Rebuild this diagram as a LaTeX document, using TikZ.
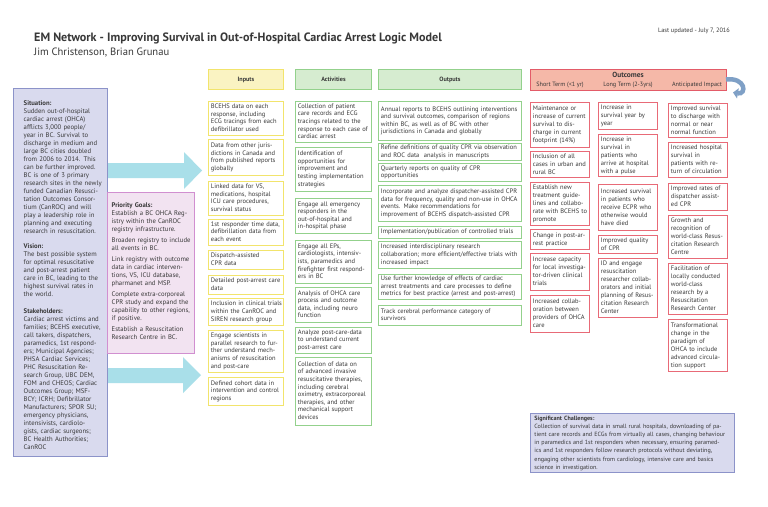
\documentclass[tikz,border=0pt]{standalone}
\usepackage{fontspec}
\setmainfont{PT Sans}
\usetikzlibrary{arrows.meta}
\definecolor{yel}{HTML}{F2E46C}
\definecolor{yelf}{HTML}{FAF3C2}
\definecolor{grn}{HTML}{93D18C}
\definecolor{grnf}{HTML}{D6ECD0}
\definecolor{rbd}{HTML}{E86A77}
\definecolor{rhd}{HTML}{E35B68}
\definecolor{rf}{HTML}{F5B8A8}
\definecolor{sitf}{HTML}{D9DAEE}
\definecolor{sitb}{HTML}{8C93C9}
\definecolor{prif}{HTML}{F2E3F1}
\definecolor{prib}{HTML}{D18FD0}
\definecolor{arr}{HTML}{A9DFE9}
\definecolor{carr}{HTML}{7FA0C6}
\definecolor{txt}{HTML}{383838}
\newcommand\bx[6]{\node[#1,anchor=north west,minimum height={(#5-#4)*1pt}] (#2) at (#3,#4)
  {\begin{tabular}{@{}l@{}}#6\end{tabular}};}
\tikzset{
  base/.style={draw, fill=white, line width=0.9pt, align=left, inner xsep=2.5pt, inner ysep=1pt,
    text=txt, font=\fontsize{6.5}{7.6}\selectfont},
  ibox/.style={base, draw=yel, text width=70pt},
  abox/.style={base, draw=grn, text width=71pt},
  obox/.style={base, draw=grn, text width=138pt},
  cbox/.style={base, draw=rbd, text width=53.5pt, font=\fontsize{6.5}{8}\selectfont},
  hbox/.style={draw, line width=0.9pt, font=\bfseries\fontsize{6.2}{7}\selectfont, text=txt,
    anchor=north west, inner sep=0pt},
  freetext/.style={anchor=north west, inner sep=0pt, align=left, text=txt},
  bigarrow/.style={fill=arr}
}
\begin{document}
\begin{tikzpicture}[x=1pt,y=-1pt]
\useasboundingbox[fill=white] (0,0) rectangle (768,506);

% title
\node[anchor=west, inner sep=0pt, text=txt, font=\bfseries\fontsize{12.1}{14}\selectfont] (title) at (34,38)
  {EM Network - Improving Survival in Out-of-Hospital Cardiac Arrest Logic Model};
\node[anchor=west, inner sep=0pt, text=txt, font=\fontsize{10.6}{12}\selectfont] (authors) at (34,52.5)
  {Jim Christenson, Brian Grunau};
\node[inner sep=0pt, text=txt, font=\fontsize{6.3}{7}\selectfont] (updated) at (694,31)
  {Last updated - July 7, 2016};

% big arrows
\fill[bigarrow] (100,163) -- (184,163) -- (184,152) -- (202,170.5) -- (184,189) -- (184,178) -- (100,178) -- cycle;
\fill[bigarrow] (100,368) -- (183,368) -- (183,357) -- (201,375) -- (183,393) -- (183,383) -- (100,383) -- cycle;

% situation
\node[draw=sitb, fill=sitf, line width=0.9pt, anchor=north west, minimum width=94pt, minimum height=368pt] (sit) at (13,88) {};
\node[freetext, text width=82pt, font=\fontsize{6.7}{8}\selectfont] (sittext) at (23.5,100.3) {%
\textbf{Situation:}\\
Sudden out-of-hospital\\
cardiac arrest (OHCA)\\
afflicts 3,000 people/\\
year in BC. Survival to\\
discharge in medium and\\
large BC cities doubled\\
from 2006 to 2014. This\\
can be further improved.\\
BC is one of 3 primary\\
research sites in the newly\\
funded Canadian Resusci-\\
tation Outcomes Consor-\\
tium (CanROC) and will\\
play a leadership role in\\
planning and executing\\
research in resuscitation.\\[7pt]
\textbf{Vision:}\\
The best possible system\\
for optimal resuscitative\\
and post-arrest patient\\
care in BC, leading to the\\
highest survival rates in\\
the world.\\[9pt]
\textbf{Stakeholders:}\\
Cardiac arrest victims and\\
families; BCEHS executive,\\
call takers, dispatchers,\\
paramedics, 1st respond-\\
ers; Municipal Agencies;\\
PHSA Cardiac Services;\\
PHC Resuscitation Re-\\
search Group, UBC DEM,\\
FOM and CHEOS; Cardiac\\
Outcomes Group; MSF-\\
BCY; ICRH; Defibrillator\\
Manufacturers; SPOR SU;\\
emergency physicians,\\
intensivists, cardiolo-\\
gists, cardiac surgeons;\\
BC Health Authorities;\\
CanROC};

% priority goals
\node[draw=prib, fill=prif, line width=0.9pt, anchor=north west, minimum width=87pt, minimum height=161pt] (pri) at (107,192) {};
\node[freetext, text width=82pt, font=\fontsize{6.7}{8}\selectfont] (pritext) at (111.5,202.3) {%
\textbf{Priority Goals:}\\
Establish a BC OHCA Reg-\\
istry within the CanROC\\
registry infrastructure.\\[3pt]
Broaden registry to include\\
all events in BC.\\[3pt]
Link registry with outcome\\
data in cardiac interven-\\
tions, VS, ICU database,\\
pharmanet and MSP.\\[3pt]
Complete extra-corporeal\\
CPR study and expand the\\
capability to other regions,\\
if positive.\\[3pt]
Establish a Resuscitation\\
Research Centre in BC.};

% headers
\node[hbox, draw=yel, fill=yelf, minimum width=75pt, minimum height=20pt] (hin) at (208,69) {Inputs};
\node[hbox, draw=grn, fill=grnf, minimum width=76pt, minimum height=20pt] (hact) at (295,69) {Activities};
\node[hbox, draw=grn, fill=grnf, minimum width=143pt, minimum height=20pt] (hout) at (378,69) {Outputs};
\node[hbox, draw=rhd, fill=rf, minimum width=196pt, minimum height=21pt] (hoc) at (530,69) {};
\node[inner sep=0pt, text=txt, font=\bfseries\fontsize{7.4}{8}\selectfont] (hoct) at (628,75) {Outcomes};
\node[inner sep=0pt, text=txt, font=\fontsize{6.2}{7}\selectfont] (hst) at (560,84.5) {Short Term (<1 yr)};
\node[inner sep=0pt, text=txt, font=\fontsize{6.2}{7}\selectfont] (hlt) at (628,84.5) {Long Term (2-3yrs)};
\node[inner sep=0pt, text=txt, font=\fontsize{6.2}{7}\selectfont] (hai) at (697,84.5) {Anticipated Impact};
\draw[carr, line width=4.5pt, -{Triangle[length=5pt,width=10pt]}] (726,79.5) .. controls (746,77) and (747,95) .. (733,92.5);

% inputs
\bx{ibox}{i1}{208}{101}{135}{BCEHS data on each\\response, including\\ECG tracings from each\\defibrillator used}
\bx{ibox}{i2}{208}{139}{175}{Data from other juris-\\dictions in Canada and\\from published reports\\globally}
\bx{ibox}{i3}{208}{181}{215}{Linked data for VS,\\medications, hospital\\ICU care procedures,\\survival status}
\bx{ibox}{i4}{208}{219}{245}{1st responder time data,\\defibrillation data from\\each event}
\bx{ibox}{i5}{208}{250}{269}{Dispatch-assisted\\CPR data}
\bx{ibox}{i6}{208}{275}{294}{Detailed post-arrest care\\data}
\bx{ibox}{i7}{208}{298}{325}{Inclusion in clinical trials\\within the CanROC and\\SIREN research group}
\bx{ibox}{i8}{208}{330}{372}{Engage scientists in\\parallel research to fur-\\ther understand mech-\\anisms of resuscitation\\and post-care}
\bx{ibox}{i9}{208}{377}{405}{Defined cohort data in\\intervention and control\\regions}

% activities
\bx{abox}{a1}{295}{101}{142}{Collection of patient\\care records and ECG\\tracings related to the\\response to each case of\\cardiac arrest}
\bx{abox}{a2}{295}{147}{191}{Identification of\\opportunities for\\improvement and\\testing implementation\\strategies}
\bx{abox}{a3}{295}{198}{233}{Engage all emergency\\responders in the\\out-of-hospital and\\in-hospital phase}
\bx{abox}{a4}{295}{240}{283}{Engage all EPs,\\cardiologists, intensiv-\\ists, paramedics and\\firefighter first respond-\\ers in BC}
\bx{abox}{a5}{295}{287}{322}{Analysis of OHCA care\\process and outcome\\data, including neuro\\function}
\bx{abox}{a6}{295}{327}{353}{Analyze post-care-data\\to understand current\\post-arrest care}
\bx{abox}{a7}{295}{357}{425}{Collection of data on\\of advanced invasive\\resuscitative therapies,\\including cerebral\\oximetry, extracorporeal\\therapies, and other\\mechanical support\\devices}

% outputs
\bx{obox}{o1}{378}{101}{140}{Annual reports to BCEHS outlining interventions\\and survival outcomes, comparison of regions\\within BC, as well as of BC with other\\jurisdictions in Canada and globally}
\bx{obox}{o2}{378}{143}{160}{Refine definitions of quality CPR via observation\\and ROC data\ \ analysis in manuscripts}
\bx{obox}{o3}{378}{163}{181}{Quarterly reports on quality of CPR\\opportunities}
\bx{obox}{o4}{378}{185}{221}{Incorporate and analyze dispatcher-assisted CPR\\data for frequency, quality and non-use in OHCA\\events. Make recommendations for\\improvement of BCEHS dispatch-assisted CPR}
\bx{obox}{o5}{378}{226}{238}{Implementation/publication of controlled trials}
\bx{obox}{o6}{378}{241}{268}{Increased interdisciplinary research\\collaboration; more efficient/effective trials with\\increased impact}
\bx{obox}{o7}{378}{274}{298}{Use further knowledge of effects of cardiac\\arrest treatments and care processes to define\\metrics for best practice (arrest and post-arrest)}
\bx{obox}{o8}{378}{305}{325}{Track cerebral performance category of\\survivors}

% short term
\bx{cbox}{s1}{530}{102}{147}{Maintenance or\\increase of current\\survival to dis-\\charge in current\\footprint (14\%)}
\bx{cbox}{s2}{530}{151}{177}{Inclusion of all\\cases in urban and\\rural BC}
\bx{cbox}{s3}{530}{182}{225}{Establish new\\treatment guide-\\lines and collabo-\\rate with BCEHS to\\promote}
\bx{cbox}{s4}{530}{229}{249}{Change in post-ar-\\rest practice}
\bx{cbox}{s5}{530}{253}{290}{Increase capacity\\for local investiga-\\tor-driven clinical\\trials}
\bx{cbox}{s6}{530}{295}{332}{Increased collab-\\oration between\\providers of OHCA\\care}

% long term
\bx{cbox}{l1}{598}{102}{129}{Increase in\\survival year by\\year}
\bx{cbox}{l2}{598}{134}{175}{Increase in\\survival in\\patients who\\arrive at hospital\\with a pulse}
\bx{cbox}{l3}{598}{184}{230}{Increased survival\\in patients who\\receive ECPR who\\otherwise would\\have died}
\bx{cbox}{l4}{598}{235}{253}{Improved quality\\of CPR}
\bx{cbox}{l5}{598}{258}{317}{ID and engage\\resuscitation\\researcher collab-\\orators and initial\\planning of Resus-\\citation Research\\Center}

% anticipated impact
\bx{cbox}{p1}{668}{103}{137}{Improved survival\\to discharge with\\normal or near\\normal function}
\bx{cbox}{p2}{668}{142}{177}{Increased hospital\\survival in\\patients with re-\\turn of circulation}
\bx{cbox}{p3}{668}{183}{210}{Improved rates of\\dispatcher assist-\\ed CPR}
\bx{cbox}{p4}{668}{215}{258}{Growth and\\recognition of\\world-class Resus-\\citation Research\\Centre}
\bx{cbox}{p5}{668}{263}{314}{Facilitation of\\locally conducted\\world-class\\research by a\\Resuscitation\\Research Center}
\bx{cbox}{p6}{668}{319}{371}{Transformational\\change in the\\paradigm of\\OHCA to include\\advanced circula-\\tion support}

% challenges
\bx{base, draw=sitb, fill=sitf, text width=196pt, inner xsep=4pt, font=\fontsize{6.1}{8.2}\selectfont}{chal}{530}{413}{472}{\textbf{Significant Challenges:}\\Collection of survival data in small rural hospitals, downloading of pa-\\tient care records and ECGs from virtually all cases, changing behaviour\\in paramedics and 1st responders when necessary, ensuring paramed-\\ics and 1st responders follow research protocols without deviating,\\engaging other scientists from cardiology, intensive care and basics\\science in investigation.}
\end{tikzpicture}
\end{document}
